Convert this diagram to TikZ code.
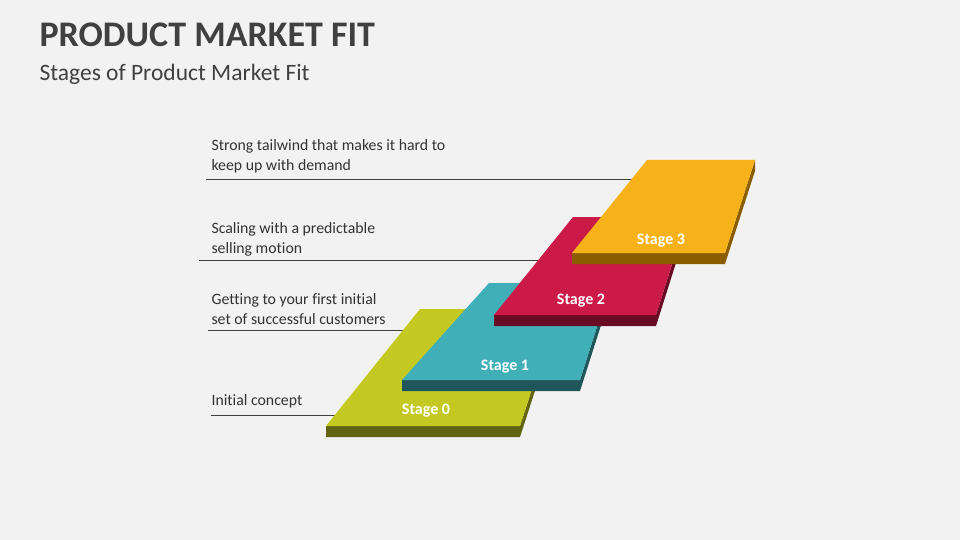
\documentclass[tikz,border=0pt]{standalone}
\usepackage{fontspec}
\setmainfont{Carlito}[Ligatures=NoCommon]
\usetikzlibrary{calc}
\newcommand\myslab[8]{%
  \fill[#5] (#1) -- ++(0,11) -- ($(#2)+(0,11)$) -- ($(#3)+(0,11)$) -- (#3) -- (#2) -- cycle;
  \fill[#6] (#1) -- (#2) -- (#3) -- (#4) -- cycle;
  \node[stg] at (#8) {#7};}
\begin{document}
\begin{tikzpicture}[x=1pt,y=-1pt,
  lbl/.style={anchor=west,align=left,font=\fontsize{15.8}{20}\selectfont,text=black!80},
  ldr/.style={draw=black!75,line width=0.8pt},
  stg/.style={text=white,font=\bfseries\fontsize{16}{17}\selectfont}]
\definecolor{c0}{HTML}{C3C921}\definecolor{d0}{HTML}{636412}
\definecolor{c1}{HTML}{41AFB8}\definecolor{d1}{HTML}{1F565A}
\definecolor{c2}{HTML}{CC1A48}\definecolor{d2}{HTML}{6A0B25}
\definecolor{c3}{HTML}{F8B219}\definecolor{d3}{HTML}{8A5E00}
\fill[fill=black!5] (0,0) rectangle (960,540);
\useasboundingbox (0,0) rectangle (960,540);
\node[anchor=west,font=\bfseries\fontsize{36}{38}\selectfont,text=black!75] (title) at (36,35) {PRODUCT MARKET FIT};
\node[anchor=west,font=\fontsize{23.5}{26}\selectfont,text=black!75] (sub) at (36,74) {Stages of Product Market Fit};
% labels and leaders
\node[lbl] (t3) at (208,156) {Strong tailwind that makes it hard to\\keep up with demand};
\node[lbl] (t2) at (208,239) {Scaling with a predictable\\selling motion};
\node[lbl] (t1) at (208,309) {Getting to your first initial\\set of successful customers};
\node[lbl] (t0) at (208,401) {Initial concept};
\coordinate (a3) at (206,179); \coordinate (b3) at (638,179);
\coordinate (a2) at (199,260); \coordinate (b2) at (541,260);
\coordinate (a1) at (208,330); \coordinate (b1) at (448,330);
\coordinate (a0) at (211,415); \coordinate (b0) at (337,415);
\foreach \i in {0,1,2,3}{\draw[ldr] (a\i) -- (b\i);}
% slabs
\coordinate (f0l) at (326,426); \coordinate (f0r) at (520,426); \coordinate (k0r) at (558,309); \coordinate (k0l) at (420,309);
\coordinate (f1l) at (402,380); \coordinate (f1r) at (580,380); \coordinate (k1r) at (611,283); \coordinate (k1l) at (489,283);
\coordinate (f2l) at (494,315); \coordinate (f2r) at (656,315); \coordinate (k2r) at (687,217); \coordinate (k2l) at (573,217);
\coordinate (f3l) at (572,253); \coordinate (f3r) at (725,253); \coordinate (k3r) at (755,160); \coordinate (k3l) at (647,160);
\coordinate (s0) at (426,411); \coordinate (s1) at (505,367);
\coordinate (s2) at (581,301); \coordinate (s3) at (661,241);
\myslab{f0l}{f0r}{k0r}{k0l}{d0}{c0}{Stage 0}{s0}
\myslab{f1l}{f1r}{k1r}{k1l}{d1}{c1}{Stage 1}{s1}
\myslab{f2l}{f2r}{k2r}{k2l}{d2}{c2}{Stage 2}{s2}
\myslab{f3l}{f3r}{k3r}{k3l}{d3}{c3}{Stage 3}{s3}
\end{tikzpicture}
\end{document}
